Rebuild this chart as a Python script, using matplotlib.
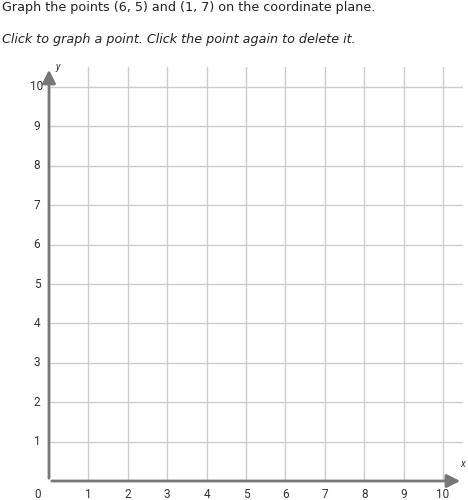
import matplotlib
matplotlib.use("Agg")
import matplotlib.pyplot as plt

x_ticks = [1, 2, 3, 4, 5, 6, 7, 8, 9, 10]
y_ticks = [1, 2, 3, 4, 5, 6, 7, 8, 9, 10]
title = "Graph the points (6, 5) and (1, 7) on the coordinate plane."
subtitle = "Click to graph a point. Click the point again to delete it."

W, H = 468, 500
fig = plt.figure(figsize=(W/100, H/100), dpi=100)
plt.rcParams['font.family'] = ['Roboto', 'DejaVu Sans']
fig.text(2/W, 1-8/H, title, fontsize=9.2, color='#222', va='center', ha='left', family=['DejaVu Sans'])
fig.text(2/W, 1-40/H, subtitle, fontsize=9.2, color='#222', va='center', ha='left', style='italic', family=['DejaVu Sans'])

x0, y0 = 49, 481
unit = 39.4
lim = (463 - x0) / unit
ax = fig.add_axes([x0/W, (H-y0)/H, (463-x0)/W, (y0-67)/H])
ax.set_xlim(0, lim)
ax.set_ylim(0, (y0-67)/unit)
for s in ax.spines.values():
    s.set_visible(False)
ax.set_xticks([]); ax.set_yticks([])
for t in x_ticks:
    ax.axvline(t, color='#cccccc', lw=1, zorder=1)
for t in y_ticks:
    ax.axhline(t, color='#cccccc', lw=1, zorder=1)
ax.annotate('', xy=(lim, 0), xytext=(0, 0), xycoords='data',
            arrowprops=dict(arrowstyle='-|>,head_length=0.8,head_width=0.4', color='#777777', lw=2),
            annotation_clip=False, zorder=3)
ax.annotate('', xy=(0, (y0-67)/unit), xytext=(0, 0),
            arrowprops=dict(arrowstyle='-|>,head_length=0.8,head_width=0.4', color='#777777', lw=2),
            annotation_clip=False, zorder=3)
for t in x_ticks:
    ax.text(t, -13/unit, str(t), ha='center', va='center', fontsize=8.5, color='#333', clip_on=False)
for t in y_ticks:
    ax.text(-12/unit, t, str(t), ha='center', va='center', fontsize=8.5, color='#333', clip_on=False)
ax.text(-11/unit, -13/unit, '0', ha='center', va='center', fontsize=8.5, color='#333', clip_on=False)
ax.text(lim, 17/unit, 'x', ha='center', va='center', fontsize=7, style='italic', color='#333', clip_on=False)
ax.text(9/unit, (y0-67)/unit, 'y', ha='center', va='center', fontsize=7, style='italic', color='#333', clip_on=False)
fig.savefig('out.png', dpi=100)
